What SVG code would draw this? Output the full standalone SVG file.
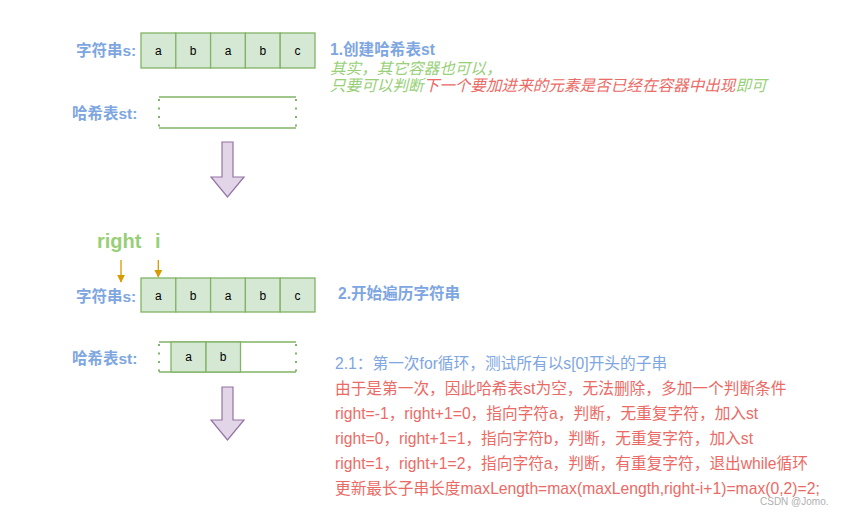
<svg xmlns="http://www.w3.org/2000/svg" width="844" height="515" viewBox="0 0 844 515">
<style>
text{font-family:"Liberation Sans","Noto Sans CJK SC",sans-serif}
.lbl{font-size:15.5px;font-weight:bold;fill:#7EA6E0}
.cell{fill:#d5e8d4;stroke:#82b366;stroke-width:1.3}
.ch{font-size:12px;fill:#000;text-anchor:middle}
.hline{stroke:#82b366;stroke-width:1.5}
.dots{stroke:#82b366;stroke-width:2;stroke-dasharray:2 6.5}
.bigarrow{fill:#e1d5e7;stroke:#9673a6;stroke-width:1.2}
.oarr{stroke:#d79b00;stroke-width:1.3}
.blue{fill:#7EA6E0}
.green{fill:#97D077}
.red{fill:#EA6B66}
.t16{font-size:15.7px}
.t15{font-size:15.6px}
</style>
<defs>
<marker id="oh" viewBox="0 0 10 10" refX="9" refY="5" markerWidth="8" markerHeight="8" markerUnits="userSpaceOnUse" orient="auto"><path d="M0,0 L10,5 L0,10 Z" fill="#d79b00"/></marker>
</defs>

<g id="label-s1"><text class="lbl" x="76" y="56">字符串s:</text></g>
<g id="string1">
<rect class="cell" x="141" y="33" width="34.8" height="35"/>
<rect class="cell" x="175.8" y="33" width="34.8" height="35"/>
<rect class="cell" x="210.6" y="33" width="34.8" height="35"/>
<rect class="cell" x="245.4" y="33" width="34.8" height="35"/>
<rect class="cell" x="280.2" y="33" width="34.8" height="35"/>
<text class="ch" x="158.4" y="55">a</text>
<text class="ch" x="193.2" y="55">b</text>
<text class="ch" x="228" y="55">a</text>
<text class="ch" x="262.8" y="55">b</text>
<text class="ch" x="297.6" y="55">c</text>
</g>

<g id="label-st1"><text class="lbl" x="72" y="119">哈希表st:</text></g>
<g id="hash1">
<rect x="159" y="97" width="137" height="31" fill="#fff"/>
<line class="hline" x1="159" y1="97" x2="296" y2="97"/>
<line class="hline" x1="159" y1="128" x2="296" y2="128"/>
<line class="dots" x1="159" y1="99" x2="159" y2="128"/>
<line class="dots" x1="296" y1="99" x2="296" y2="128"/>
</g>

<g id="note1">
<text class="t15 blue" x="330" y="54.5" font-weight="bold">1.创建哈希表st</text>
<text class="t15 green" x="330" y="73.5" font-style="italic">其实，其它容器也可以，</text>
<text class="t15" x="330" y="90.5" font-style="italic"><tspan class="green">只要可以判断</tspan><tspan class="red">下一个要加进来的元素是否已经在容器中出现</tspan><tspan class="green">即可</tspan></text>
</g>

<g id="arrow1"><polygon class="bigarrow" points="222,142 233,142 233,177 244,177 227.5,197 211,177 222,177"/></g>

<g id="pointers">
<text x="97" y="248" font-size="20" font-weight="bold" class="green">right</text>
<text x="155" y="248" font-size="20" font-weight="bold" class="green">i</text>
</g>
<g id="connectors">
<line class="oarr" x1="121" y1="260" x2="121" y2="282" marker-end="url(#oh)"/>
<line class="oarr" x1="158.3" y1="260" x2="158.3" y2="277" marker-end="url(#oh)"/>
</g>

<g id="label-s2"><text class="lbl" x="76" y="302">字符串s:</text></g>
<g id="string2">
<rect class="cell" x="141" y="278" width="34.8" height="34"/>
<rect class="cell" x="175.8" y="278" width="34.8" height="34"/>
<rect class="cell" x="210.6" y="278" width="34.8" height="34"/>
<rect class="cell" x="245.4" y="278" width="34.8" height="34"/>
<rect class="cell" x="280.2" y="278" width="34.8" height="34"/>
<text class="ch" x="158.4" y="299.5">a</text>
<text class="ch" x="193.2" y="299.5">b</text>
<text class="ch" x="228" y="299.5">a</text>
<text class="ch" x="262.8" y="299.5">b</text>
<text class="ch" x="297.6" y="299.5">c</text>
</g>
<g id="note2"><text class="t15 blue" x="338" y="299" font-weight="bold">2.开始遍历字符串</text></g>

<g id="label-st2"><text class="lbl" x="72" y="364">哈希表st:</text></g>
<g id="hash2">
<rect x="159" y="342" width="137" height="30" fill="#fff"/>
<line class="hline" x1="159" y1="342" x2="296" y2="342"/>
<line class="hline" x1="159" y1="372" x2="296" y2="372"/>
<line class="dots" x1="159" y1="344" x2="159" y2="372"/>
<line class="dots" x1="296" y1="344" x2="296" y2="372"/>
<rect class="cell" x="171" y="342" width="35" height="30"/>
<rect class="cell" x="206" y="342" width="34.5" height="30"/>
<text class="ch" x="188.5" y="361">a</text>
<text class="ch" x="223.2" y="361">b</text>
</g>

<g id="arrow2"><polygon class="bigarrow" points="222,387 233,387 233,420 244,420 227.5,440 211,420 222,420"/></g>

<g id="note3" class="t16">
<text class="blue" x="335" y="369">2.1：第一次for循环，测试所有以s[0]开头的子串</text>
<text class="red" x="335" y="394">由于是第一次，因此哈希表st为空，无法删除，多加一个判断条件</text>
<text class="red" x="335" y="419">right=-1，right+1=0，指向字符a，判断，无重复字符，加入st</text>
<text class="red" x="335" y="444">right=0，right+1=1，指向字符b，判断，无重复字符，加入st</text>
<text class="red" x="335" y="469">right=1，right+1=2，指向字符a，判断，有重复字符，退出while循环</text>
<text class="red" x="335" y="494">更新最长子串长度maxLength=max(maxLength,right-i+1)=max(0,2)=2;</text>
</g>
<g id="watermark"><text x="760" y="505" font-size="10" fill="#b0b0b0">CSDN @Jomo.</text></g>
</svg>
